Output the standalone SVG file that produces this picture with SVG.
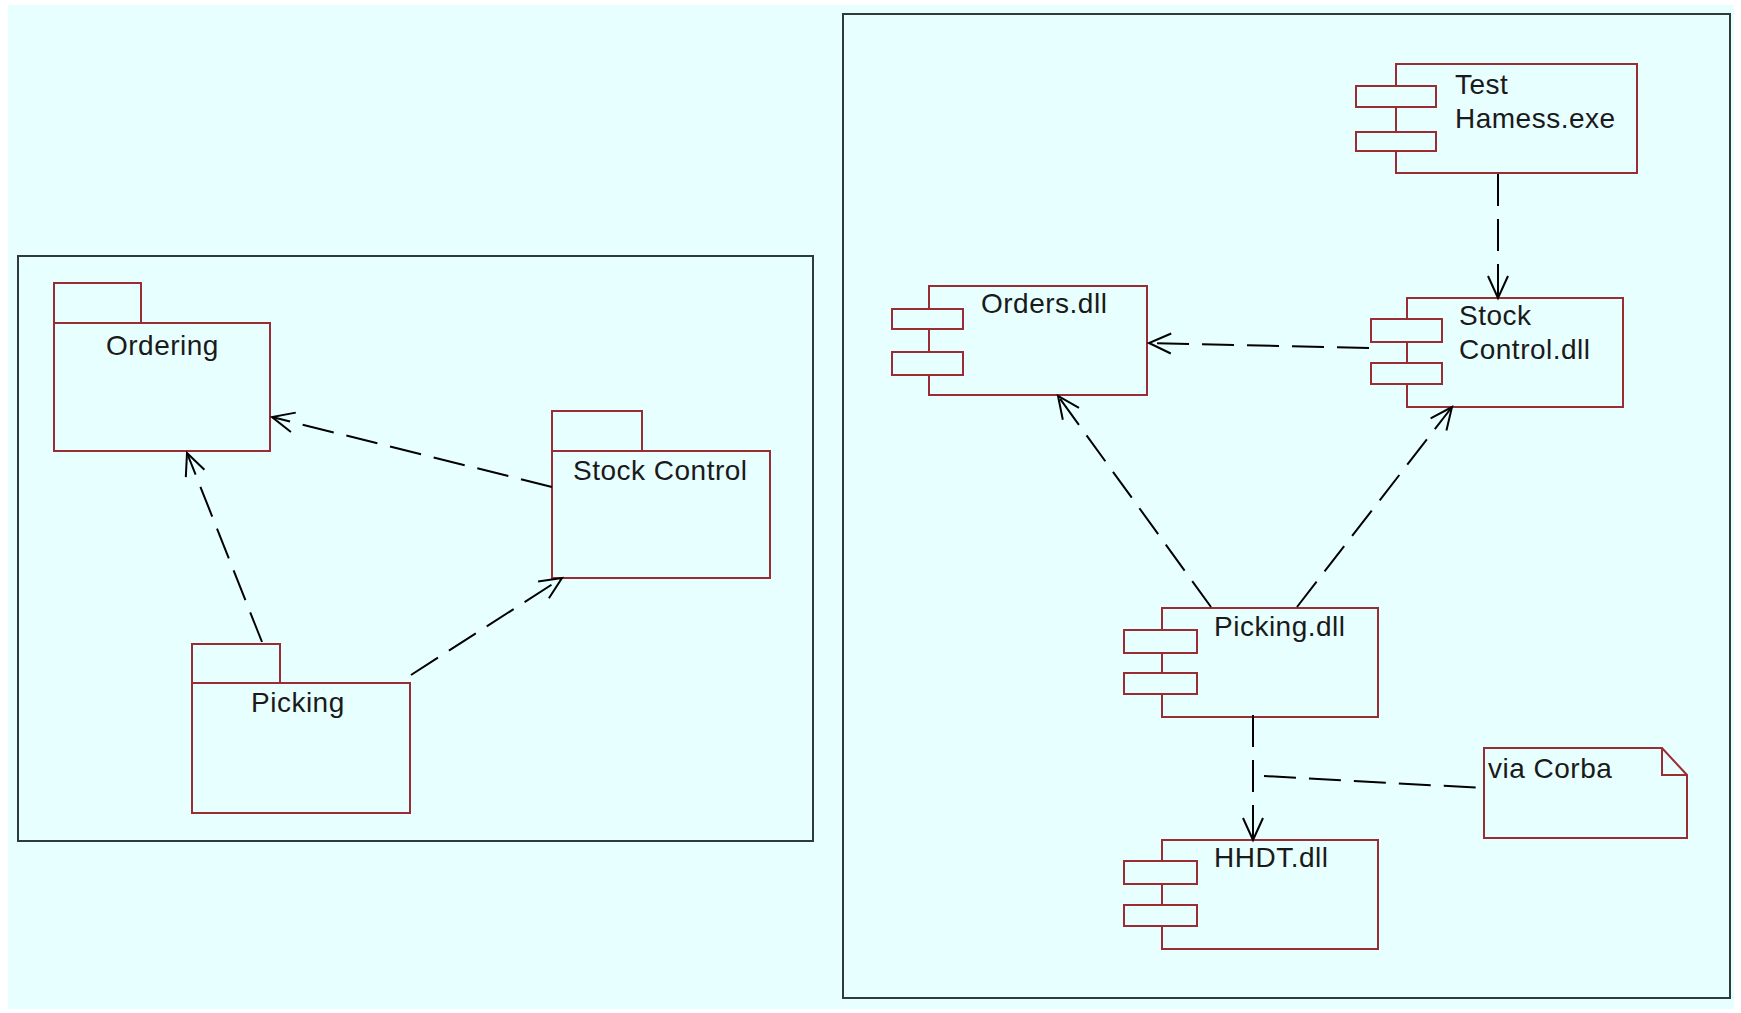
<svg xmlns="http://www.w3.org/2000/svg" width="1741" height="1013" viewBox="0 0 1741 1013">
<style>
.node{fill:#E8FFFF;stroke:#9A2C33;stroke-width:2}
.frame{fill:none;stroke:#2F3A3A;stroke-width:2}
.lbl{font-family:"Liberation Sans",Arial,sans-serif;font-size:28px;letter-spacing:0.5px;fill:#1a1a1a}
.dep{fill:none;stroke:#000;stroke-width:2;stroke-dasharray:32 13}
</style>
<defs>
<marker id="open" markerUnits="userSpaceOnUse" orient="auto" refX="0" refY="0" markerWidth="30" markerHeight="30" overflow="visible">
<path d="M-22,-10 L0,0 L-22,10" fill="none" stroke="#000" stroke-width="2"/>
</marker>
</defs>
<rect x="0" y="0" width="1741" height="1013" fill="#FFFFFF"/>
<rect x="8" y="5" width="1726" height="1004" fill="#E8FFFF"/>
<g id="frames">
<rect class="frame" x="18" y="256" width="795" height="585"/>
<rect class="frame" x="843" y="14" width="887" height="984"/>
</g>
<g id="pkg-ordering">
<rect class="node" x="54" y="283" width="87" height="40"/>
<rect class="node" x="54" y="323" width="216" height="128"/>
<text class="lbl" x="106" y="355">Ordering</text>
</g>
<g id="pkg-stock-control">
<rect class="node" x="552" y="411" width="90" height="40"/>
<rect class="node" x="552" y="451" width="218" height="127"/>
<text class="lbl" x="573" y="480">Stock Control</text>
</g>
<g id="pkg-picking">
<rect class="node" x="192" y="644" width="88" height="39"/>
<rect class="node" x="192" y="683" width="218" height="130"/>
<text class="lbl" x="251" y="712">Picking</text>
</g>
<g id="cmp-test-harness">
<rect class="node" x="1396" y="64" width="241" height="109"/>
<rect class="node" x="1356" y="86" width="80" height="21"/>
<rect class="node" x="1356" y="132" width="80" height="19"/>
<text class="lbl" x="1455" y="94">Test</text>
<text class="lbl" x="1455" y="128">Hamess.exe</text>
</g>
<g id="cmp-orders">
<rect class="node" x="929" y="286" width="218" height="109"/>
<rect class="node" x="892" y="309" width="71" height="20"/>
<rect class="node" x="892" y="352" width="71" height="23"/>
<text class="lbl" x="981" y="313">Orders.dll</text>
</g>
<g id="cmp-stock-control">
<rect class="node" x="1407" y="298" width="216" height="109"/>
<rect class="node" x="1371" y="319" width="71" height="23"/>
<rect class="node" x="1371" y="363" width="71" height="21"/>
<text class="lbl" x="1459" y="325">Stock</text>
<text class="lbl" x="1459" y="359">Control.dll</text>
</g>
<g id="cmp-picking">
<rect class="node" x="1162" y="608" width="216" height="109"/>
<rect class="node" x="1124" y="630" width="73" height="23"/>
<rect class="node" x="1124" y="673" width="73" height="21"/>
<text class="lbl" x="1214" y="636">Picking.dll</text>
</g>
<g id="cmp-hhdt">
<rect class="node" x="1162" y="840" width="216" height="109"/>
<rect class="node" x="1124" y="861" width="73" height="23"/>
<rect class="node" x="1124" y="905" width="73" height="21"/>
<text class="lbl" x="1214" y="867">HHDT.dll</text>
</g>
<g id="note-corba">
<path class="node" d="M1484,748 H1662 L1687,775 V838 H1484 Z"/>
<path d="M1662,748 V775 H1687" fill="none" stroke="#9A2C33" stroke-width="2"/>
<text class="lbl" x="1488" y="778">via Corba</text>
</g>
<g id="connectors">
<line class="dep" x1="552" y1="487" x2="272" y2="417" marker-end="url(#open)"/>
<line class="dep" x1="262" y1="642" x2="187" y2="453" marker-end="url(#open)"/>
<line class="dep" x1="411" y1="675" x2="562" y2="578" marker-end="url(#open)"/>
<line class="dep" x1="1498" y1="174" x2="1498" y2="298" marker-end="url(#open)"/>
<line class="dep" x1="1369" y1="348" x2="1149" y2="343" marker-end="url(#open)"/>
<line class="dep" x1="1211" y1="607" x2="1058" y2="396" marker-end="url(#open)"/>
<line class="dep" x1="1297" y1="607" x2="1452" y2="407" marker-end="url(#open)"/>
<line class="dep" x1="1253" y1="715" x2="1253" y2="840" marker-end="url(#open)"/>
<line class="dep" x1="1264" y1="776" x2="1483" y2="788"/>
</g>
</svg>
